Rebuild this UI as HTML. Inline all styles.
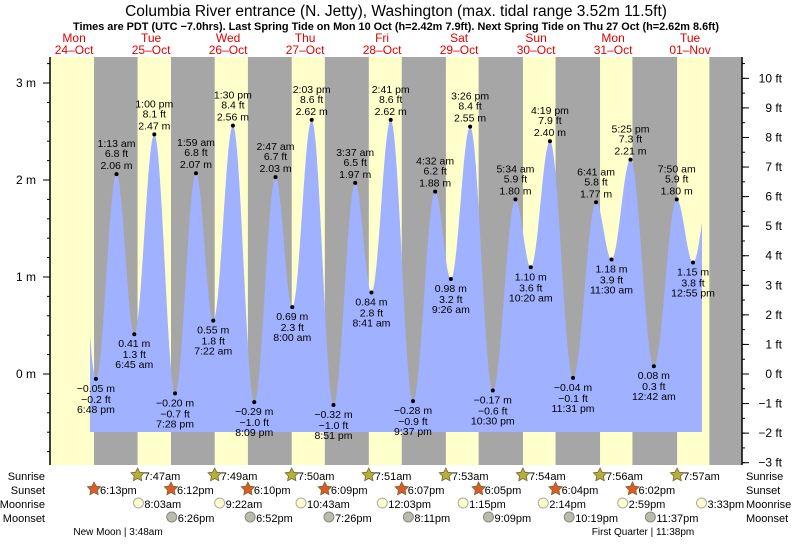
<!DOCTYPE html>
<html><head><meta charset="utf-8"><style>
body{margin:0;background:#fff;font-family:"Liberation Sans",sans-serif;}
svg text{font-family:"Liberation Sans",sans-serif;}
</style></head><body>
<svg id="c" width="793" height="539" xmlns="http://www.w3.org/2000/svg">
<text x="396" y="16" font-size="15.5" text-anchor="middle">Columbia River entrance (N. Jetty), Washington (max. tidal range 3.52m 11.5ft)</text>
<text x="396" y="30" font-size="10.9" font-weight="bold" text-anchor="middle">Times are PDT (UTC −7.0hrs). Last Spring Tide on Mon 10 Oct (h=2.42m 7.9ft). Next Spring Tide on Thu 27 Oct (h=2.62m 8.6ft)</text>
<g id="g"></g>
</svg>
<script>
// data
const dayNames=["Mon","Tue","Wed","Thu","Fri","Sat","Sun","Mon","Tue"];
const dayDates=["24–Oct","25–Oct","26–Oct","27–Oct","28–Oct","29–Oct","30–Oct","31–Oct","01–Nov"];
const tideDay=[0,1,1,1,1,2,2,2,2,3,3,3,3,4,4,4,4,5,5,5,5,6,6,6,6,7,7,7,8,8,8];
const tideHour=[18.8,1.217,6.75,13.0,19.467,1.983,7.367,13.5,20.15,2.783,8.0,14.05,20.85,3.617,8.683,14.683,21.617,4.533,9.433,15.433,22.5,5.567,10.333,16.317,23.517,6.683,11.5,17.417,0.7,7.833,12.917];
const tideM=[-0.05,2.06,0.41,2.47,-0.20,2.07,0.55,2.56,-0.29,2.03,0.69,2.62,-0.32,1.97,0.84,2.62,-0.28,1.88,0.98,2.55,-0.17,1.80,1.10,2.40,-0.04,1.77,1.18,2.21,0.08,1.80,1.15];
const tideFt=["−0.2","6.8","1.3","8.1","−0.7","6.8","1.8","8.4","−1.0","6.7","2.3","8.6","−1.0","6.5","2.8","8.6","−0.9","6.2","3.2","8.4","−0.6","5.9","3.6","7.9","−0.1","5.8","3.9","7.3","0.3","5.9","3.8"];
const tideTime=["6:48 pm","1:13 am","6:45 am","1:00 pm","7:28 pm","1:59 am","7:22 am","1:30 pm","8:09 pm","2:47 am","8:00 am","2:03 pm","8:51 pm","3:37 am","8:41 am","2:41 pm","9:37 pm","4:32 am","9:26 am","3:26 pm","10:30 pm","5:34 am","10:20 am","4:19 pm","11:31 pm","6:41 am","11:30 am","5:25 pm","12:42 am","7:50 am","12:55 pm"];
const sunriseDay=[1,2,3,4,5,6,7,8];
const sunriseHour=[7.783,7.817,7.833,7.85,7.883,7.9,7.933,7.95];
const sunriseLbl=["7:47am","7:49am","7:50am","7:51am","7:53am","7:54am","7:56am","7:57am"];
const sunsetDay=[0,1,2,3,4,5,6,7];
const sunsetHour=[18.217,18.2,18.167,18.15,18.117,18.083,18.067,18.033];
const sunsetLbl=["6:13pm","6:12pm","6:10pm","6:09pm","6:07pm","6:05pm","6:04pm","6:02pm"];
const moonriseDay=[1,2,3,4,5,6,7,8];
const moonriseHour=[8.05,9.367,10.717,12.05,13.25,14.233,14.983,15.55];
const moonriseLbl=["8:03am","9:22am","10:43am","12:03pm","1:15pm","2:14pm","2:59pm","3:33pm"];
const moonsetDay=[1,2,3,4,5,6,7];
const moonsetHour=[18.433,18.867,19.433,20.183,21.15,22.317,23.617];
const moonsetLbl=["6:26pm","6:52pm","7:26pm","8:11pm","9:09pm","10:19pm","11:37pm"];
const mTicks=[0,1,2,3];
const ftTicks=[-3,-2,-1,0,1,2,3,4,5,6,7,8,9,10];

const NS="http://www.w3.org/2000/svg",G=document.getElementById('g');
function mk(t,a,p){const e=document.createElementNS(NS,t);for(const k in a)e.setAttribute(k,a[k]);(p||G).appendChild(e);return e;}
function tx(s,x,y,o){const e=mk('text',Object.assign({x:x,y:y,'font-size':11},o||{}));e.textContent=s;return e;}
const X0=35.6,PD=77,L=50,R=742,T=57,B=465;
const xs=(d,h)=>X0+d*PD+h*PD/24;
const ym=m=>374-m*97;
const yf=f=>374-f*97/3.2808;
let bg=mk('rect',{x:L,y:T,width:R-L,height:B-T,fill:'#a6a6a6'});

for(let i=0;i<sunriseDay.length+1;i++){
  const s=i==0?L:xs(sunriseDay[i-1],sunriseHour[i-1]);
  const e=i<sunsetDay.length?xs(sunsetDay[i],sunsetHour[i]):xs(8,18);
  const r=mk('rect',{x:s,y:T,width:e-s,height:B-T,fill:'#ffffcc'});
  
  
}
const tx0=xs(0,12.3),tm0=2.45,txe=xs(8,19),tme=2.1;
const px=[tx0],pm=[tm0];
for(let i=0;i<tideM.length;i++){px.push(xs(tideDay[i],tideHour[i]));pm.push(tideM[i]);}
px.push(txe);pm.push(tme);
const xa=90,xb=702,yb=432;
let d='M'+xa+','+yb;
for(let x=xa;x<=xb;x+=1){
  let k=0;while(k<px.length-2&&px[k+1]<x)k++;
  const f=(x-px[k])/(px[k+1]-px[k]);
  const m=pm[k]+(pm[k+1]-pm[k])*(1-Math.cos(Math.PI*f))/2;
  d+=' L'+x+','+ym(m).toFixed(1);
}
d+=' L'+xb+','+yb+' Z';
const area=mk('path',{d:d,fill:'#9fb1ff'});


for(let i=0;i<tideM.length;i++){
  const x=xs(tideDay[i],tideHour[i]),y=ym(tideM[i]);
  const isHigh=(i>0&&tideM[i]>tideM[i-1]);
  const dot=mk('circle',{cx:x,cy:y,r:2,fill:'#000'});
  
  
  if(isHigh){
    tx(tideTime[i],x,y-27,{'text-anchor':'middle','font-size':10.5});
    tx(tideFt[i]+' ft',x,y-17,{'text-anchor':'middle','font-size':10.5});
    tx(tideM[i].toFixed(2)+' m',x,y-5,{'text-anchor':'middle','font-size':10.5});
  }else{
    const ms=(tideM[i]<0?'−'+Math.abs(tideM[i]).toFixed(2):tideM[i].toFixed(2))+' m';
    tx(ms,x,y+13,{'text-anchor':'middle','font-size':10.5});
    tx(tideFt[i]+' ft',x,y+24,{'text-anchor':'middle','font-size':10.5});
    tx(tideTime[i],x,y+34,{'text-anchor':'middle','font-size':10.5});
  }
}
const la=mk('line',{x1:L,y1:T,x2:L,y2:B,stroke:'#000','stroke-width':1.5});

const ra=mk('line',{x1:R,y1:T,x2:R,y2:B,stroke:'#000','stroke-width':1.5});

for(let m=-0.8;m<=3.3;m+=0.2){const y=ym(m);if(y>=T&&y<=B)mk('line',{x1:L-3,y1:y,x2:L,y2:y,stroke:'#000'});}
mTicks.forEach(m=>{const y=ym(m);mk('line',{x1:L-7,y1:y,x2:L,y2:y,stroke:'#000'});const t=tx(m+' m',36,y+4,{'text-anchor':'end','font-size':12});});
for(let f=-3;f<=10.5;f+=0.5){mk('line',{x1:R,y1:yf(f),x2:R+3,y2:yf(f),stroke:'#000'});}
ftTicks.forEach(f=>{const y=yf(f);mk('line',{x1:R,y1:y,x2:R+7,y2:y,stroke:'#000'});const t=tx((f<0?'−'+(-f):f)+' ft',782,y+4,{'text-anchor':'end','font-size':12});});
for(let i=0;i<dayNames.length;i++){
  const x=xs(i,12);
  const a=tx(dayNames[i],x,42,{'text-anchor':'middle','font-size':12,fill:'#e00000'});
  const b=tx(dayDates[i],x,54,{'text-anchor':'middle','font-size':12,fill:'#e00000'});
}
const rows=[["Sunrise",476],["Sunset",490],["Moonrise",504],["Moonset",518]];
rows.forEach(r=>{tx(r[0],45,r[1]+4,{'text-anchor':'end','font-size':11});tx(r[0],746,r[1]+4,{'font-size':11});});
function star(x,y,fill){let p='';for(let k=0;k<10;k++){const a=-Math.PI/2+k*Math.PI/5,rr=k%2?3.5:7;p+=(x+rr*Math.cos(a)).toFixed(1)+','+(y+rr*Math.sin(a)).toFixed(1)+' ';}
 const s=mk('polygon',{points:p,fill:fill,stroke:'#776633','stroke-width':0.8});}
sunriseDay.forEach((dd,i)=>{const x=xs(dd,sunriseHour[i]);star(x,475,'#b5b03a');tx(sunriseLbl[i],x+6,480,{'font-size':11});});
sunsetDay.forEach((dd,i)=>{const x=xs(dd,sunsetHour[i]);star(x,489,'#e05a25');tx(sunsetLbl[i],x+6,494,{'font-size':11});});
moonriseDay.forEach((dd,i)=>{const x=xs(dd,moonriseHour[i]);const c=mk('circle',{cx:x,cy:503,r:5,fill:'#ffffcc',stroke:'#aaa'});tx(moonriseLbl[i],x+6,508,{'font-size':11});});
moonsetDay.forEach((dd,i)=>{const x=xs(dd,moonsetHour[i]);const c=mk('circle',{cx:x,cy:517,r:5,fill:'#bbbbaa',stroke:'#888'});tx(moonsetLbl[i],x+6,522,{'font-size':11});});
const p1=tx('New Moon | 3:48am',118,535,{'text-anchor':'middle','font-size':10});
const p2=tx('First Quarter | 11:38pm',643,535,{'text-anchor':'middle','font-size':10});
</script>
</body></html>
